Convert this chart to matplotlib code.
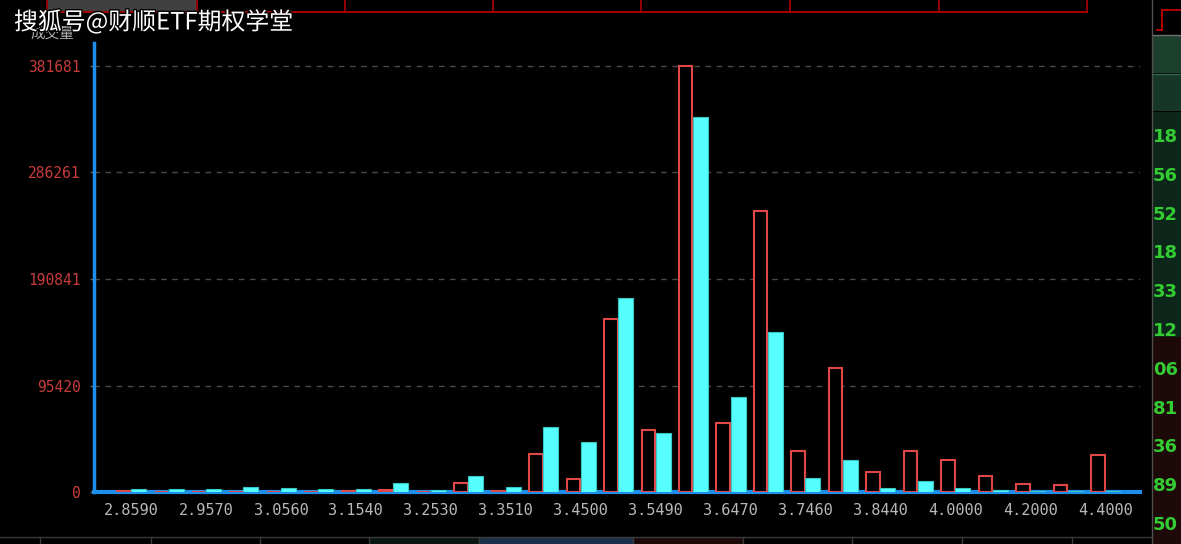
import matplotlib
matplotlib.use("Agg")
import matplotlib.pyplot as plt
import matplotlib.patheffects as pe
import numpy as np

# ---------------- data ----------------
strikes = ["2.8590", "2.9080", "2.9570", "3.0070", "3.0560", "3.1050", "3.1540",
           "3.2040", "3.2530", "3.3020", "3.3510", "3.4010", "3.4500", "3.5000",
           "3.5490", "3.5980", "3.6470", "3.6970", "3.7460", "3.7950", "3.8440",
           "3.9000", "4.0000", "4.1000", "4.2000", "4.3000", "4.4000"]
red_vol = [500, 400, 400, 400, 400, 400, 500, 1800, 400, 8300, 500, 34300, 11300,
           154700, 55500, 381681, 61800, 251500, 36700, 110700, 17900, 36700,
           28700, 14000, 7200, 5900, 32800]
cyan_vol = [2800, 2500, 2500, 4800, 3500, 2300, 2300, 8500, 2000, 14000, 4700,
            58500, 45000, 173800, 53000, 336300, 85100, 143100, 12800, 28900,
            3200, 10100, 3200, 1800, 900, 900, 900]
y_ticks = [0, 95420, 190841, 286261, 381681]
side_numbers = ["18", "56", "52", "18", "33", "12", "06", "81", "36", "89", "50"]
title_text = "搜狐号@财顺ETF期权学堂"
axis_title = "成交量"

W, H = 1181, 544
fig = plt.figure(figsize=(W / 100, H / 100), dpi=100, facecolor="black")

# ---------------- background decorations (pixel coords) ----------------
bg = fig.add_axes([0, 0, 1, 1])
bg.set_xlim(0, W)
bg.set_ylim(H, 0)
bg.axis("off")
bg.set_facecolor("black")

# top table cells
bg.add_patch(plt.Rectangle((47, 0), 150, 11.5, facecolor="#404040", edgecolor="none"))
for xv in [47, 197, 345, 493, 641, 790, 939, 1087]:
    bg.plot([xv, xv], [0, 11.5], color="#a00000", lw=1.3)
bg.plot([47, 1087], [11.5, 11.5], color="#a00000", lw=1.5)

# right panel
bg.plot([1152, 1152], [0, H], color="#505050", lw=1)
bg.add_patch(plt.Rectangle((1153, 35), 28, 38, facecolor="#1d3f2e", edgecolor="none"))
bg.plot([1153, 1181], [35, 35], color="#707070", lw=1)
bg.plot([1153, 1181], [73.5, 73.5], color="#2f6a4c", lw=1)
bg.add_patch(plt.Rectangle((1153, 75), 28, 36, facecolor="#163628", edgecolor="none"))
bg.add_patch(plt.Rectangle((1153, 112), 28, 225, facecolor="#0c2719", edgecolor="none"))
bg.add_patch(plt.Rectangle((1153, 337), 28, 207, facecolor="#1e0909", edgecolor="none"))
bg.plot([1162, 1181], [10, 10], color="#c00000", lw=1.3)
bg.plot([1162, 1162], [10, 30], color="#c00000", lw=1.3)
bg.plot([1157, 1162], [30, 30], color="#c00000", lw=1.3)
for i, s in enumerate(side_numbers):
    bg.text(1153, 137 + i * 38.8, s, color="#33cc33", fontsize=13, fontweight="bold",
            family="DejaVu Sans", va="center", ha="left")

# bottom strip
bg.add_patch(plt.Rectangle((369, 537), 110, 7, facecolor="#0b1812", edgecolor="none"))
bg.add_patch(plt.Rectangle((479, 537), 154, 7, facecolor="#1b2f4a", edgecolor="none"))
bg.add_patch(plt.Rectangle((633, 537), 110, 7, facecolor="#1e0909", edgecolor="none"))
bg.plot([0, 1152], [537, 537], color="#3a3a3a", lw=1)
for xv in [40, 151, 260, 369, 479, 633, 743, 852, 962, 1072]:
    bg.plot([xv, xv], [537, H], color="#3a3a3a", lw=1)

# axis title (partly hidden by watermark) and watermark
bg.text(30, 34, axis_title, color="#b0b0b0", fontsize=10.5,
        family=["Noto Sans CJK SC", "DejaVu Sans"], va="center", ha="left")
bg.text(14, 22, title_text, color="white", fontsize=17.2, fontweight="medium",
        family=["Noto Sans CJK SC", "DejaVu Sans"], va="center", ha="left",
        path_effects=[pe.withStroke(linewidth=2, foreground="black")], zorder=10)

# ---------------- main chart ----------------
ax_left, ax_right, ax_bottom, ax_top = 94, 1140, 492, 43
ax = fig.add_axes([ax_left / W, (H - ax_bottom) / H,
                   (ax_right - ax_left) / W, (ax_bottom - ax_top) / H])
ax.set_facecolor("none")

x = np.arange(len(strikes))
ax.bar(x - 0.195, red_vol, width=0.36, facecolor="black", edgecolor="#e04848",
       linewidth=1.5, zorder=4)
ax.bar(x + 0.2, cyan_vol, width=0.4, facecolor="#55ffff", edgecolor="#38c8c8",
       linewidth=0.8, zorder=4)

ax.set_xlim(-0.99, 26.93)
px_per_unit = (ax_bottom - 66) / y_ticks[-1]
ax.set_ylim(0, (ax_bottom - ax_top) / px_per_unit)

ax.set_yticks(y_ticks)
ax.set_yticklabels([str(v) for v in y_ticks])
ax.set_xticks(x[::2])
ax.set_xticklabels(strikes[::2])

for side in ["top", "right"]:
    ax.spines[side].set_visible(False)
ax.spines["left"].set_color("#1e8ee8")
ax.spines["left"].set_linewidth(2.5)
ax.spines["bottom"].set_color("#1e8ee8")
ax.spines["bottom"].set_linewidth(3)
ax.spines["left"].set_zorder(3)
ax.spines["bottom"].set_zorder(3)

ax.tick_params(axis="y", colors="#c83c3c", length=3, width=1, pad=6.5,
               labelsize=10.5, color="#606060")
ax.tick_params(axis="x", colors="#b8b8b8", length=0, pad=8, labelsize=11)
for lab in ax.get_yticklabels():
    lab.set_family("DejaVu Sans Mono")
for lab in ax.get_xticklabels():
    lab.set_family("DejaVu Sans Mono")

for v in y_ticks[1:]:
    ax.axhline(v, color="#4a4a4a", lw=1, dashes=(4, 4), zorder=1)

fig.savefig("out.png", dpi=100, facecolor="black")
